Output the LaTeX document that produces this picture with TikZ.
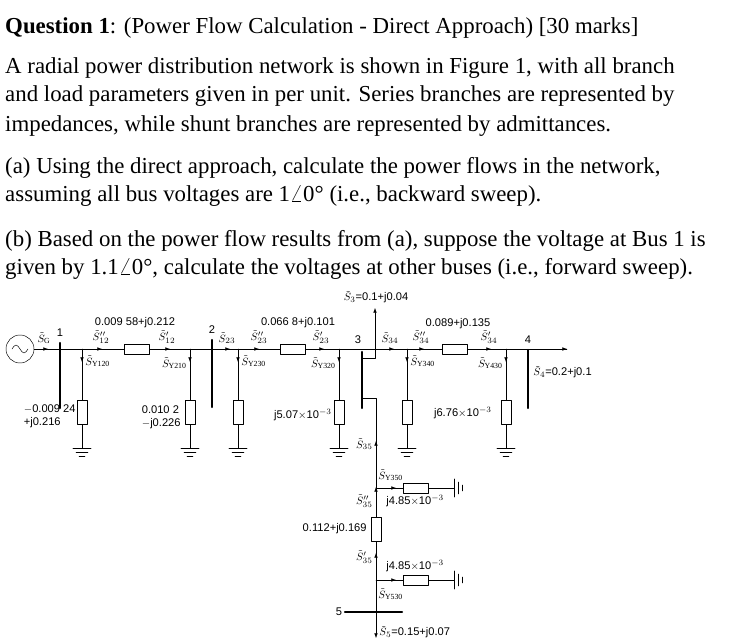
\documentclass[tikz,border=0pt]{standalone}
\usepackage{fontspec}
\setmainfont{Liberation Serif}
\newfontfamily\lblfont{Liberation Sans}
\usetikzlibrary{arrows.meta}
\tikzset{
  txt/.style={anchor=west, inner sep=0pt, font=\fontsize{19.5}{22}\selectfont},
  lbl/.style={inner sep=1pt, font=\lblfont\fontsize{9.5}{11}\selectfont},
  res/.style={draw, fill=white, minimum width=0.75cm, minimum height=0.3cm, inner sep=0pt},
  vres/.style={draw, fill=white, minimum width=0.3cm, minimum height=0.72cm, inner sep=0pt},
  bus/.style={line width=1.8pt},
  flow/.style={-{Latex[length=4pt,width=3pt]}},
  gnd/.pic={\draw (0,0) -- (0,8);
            \draw[thick] (-9,8) -- (9,8);
            \draw (-6,12) -- (6,12);
            \draw (-3,16) -- (3,16);}
}
\begin{document}
\begin{tikzpicture}[x=0.03cm, y=-0.03cm, line cap=round, line join=round]
  \useasboundingbox (0,0) rectangle (747,642);

  % Aufgabentext
  \node[txt] (q0) at (5,28)  {\textbf{Question 1}: (Power Flow Calculation - Direct Approach) [30 marks]};
  \node[txt] (q1) at (5,68)  {A radial power distribution network is shown in Figure 1, with all branch};
  \node[txt] (q2) at (5,96)  {and load parameters given in per unit. Series branches are represented by};
  \node[txt] (q3) at (5,126) {impedances, while shunt branches are represented by admittances.};
  \node[txt] (q4) at (5,168) {(a) Using the direct approach, calculate the power flows in the network,};
  \node[txt] (q5) at (5,196) {assuming all bus voltages are 1$\angle$0\textdegree\ (i.e., backward sweep).};
  \node[txt] (q6) at (5,241) {(b) Based on the power flow results from (a), suppose the voltage at Bus 1 is};
  \node[txt] (q7) at (5,269) {given by 1.1$\angle$0\textdegree, calculate the voltages at other buses (i.e., forward sweep).};

  % Quelle und Hauptleitung
  \node[draw, circle, minimum size=0.84cm, inner sep=0pt] (gen) at (20,349) {};
  \draw (gen.center) ++(-8,0) sin ++(4,-4) cos ++(4,4) sin ++(4,4) cos ++(4,-4);
  \coordinate (b4end) at (567,349);
  \draw (gen) -- (b4end);
  \draw[flow] (b4end) ++(-10,0) -- (b4end);

  % Sammelschienen
  \draw[bus] (60,343) -- (60,408);   \node[lbl] (n1) at (60,333) {1};
  \draw[bus] (212,340) -- (212,407); \node[lbl] (n2) at (212,330) {2};
  \draw[bus] (362,352) -- (362,408); \node[lbl] (n3) at (358,340) {3};
  \draw[bus] (528,350) -- (528,408); \node[lbl] (n4) at (528,340) {4};
  \draw[bus] (345,612) -- (402,612); \node[lbl] (n5) at (339,612) {5};

  % Laengsimpedanzen
  \node[res] (z12) at (137,349) {};
  \node[res] (z23) at (293,349) {};
  \node[res] (z34) at (455,349) {};
  \node[lbl] at (135,323) {0.009 58+j0.212};
  \node[lbl] at (298,323) {0.066 8+j0.101};
  \node[lbl] at (458,324) {0.089+j0.135};

  % Querzweige
  \foreach \x in {82,190,238,339,407,506} {
    \node[vres] (y\x) at (\x,412) {};
    \draw (\x,349) -- (y\x.north);
    \draw[flow] (\x,352) -- (\x,362);
    \draw (y\x.south) -- (\x,440) pic {gnd};
  }
  \node[lbl, anchor=west] at (84,361) {$\tilde S_{\mathrm{Y120}}$};
  \node[lbl, anchor=east] at (188,363) {$\tilde S_{\mathrm{Y210}}$};
  \node[lbl, anchor=west] at (240,361) {$\tilde S_{\mathrm{Y230}}$};
  \node[lbl, anchor=east] at (337,363) {$\tilde S_{\mathrm{Y320}}$};
  \node[lbl, anchor=west] at (409,361) {$\tilde S_{\mathrm{Y340}}$};
  \node[lbl, anchor=east] at (504,363) {$\tilde S_{\mathrm{Y430}}$};
  \node[lbl, align=left, anchor=east] at (77,416) {$-$0.009 24\\+j0.216};
  \node[lbl, align=left, anchor=east] at (182,417) {0.010 2\\$-$j0.226};
  \node[lbl, anchor=east] at (333,415) {j5.07$\times$10$^{-3}$};
  \node[lbl, anchor=east] at (493,413) {j6.76$\times$10$^{-3}$};

  % Leistungsfluesse auf der Hauptleitung
  \foreach \x in {44,98,166,226,255,320,390,420,487} \draw[flow] (\x,349) -- (\x+4,349);
  \node[lbl] at (44,338) {$\tilde S_{\mathrm{G}}$};
  \node[lbl] at (101,337) {$\tilde S''_{12}$};
  \node[lbl] at (167,337) {$\tilde S'_{12}$};
  \node[lbl] at (227,338) {$\tilde S_{23}$};
  \node[lbl] at (259,337) {$\tilde S''_{23}$};
  \node[lbl] at (321,337) {$\tilde S'_{23}$};
  \node[lbl] at (390,338) {$\tilde S_{34}$};
  \node[lbl] at (421,337) {$\tilde S''_{34}$};
  \node[lbl] at (489,337) {$\tilde S'_{34}$};
  \node[lbl, anchor=west] at (532,372) {$\tilde S_4$=0.2+j0.1};

  % Last an Bus 3
  \coordinate (s3top) at (375,308);
  \draw[flow] (362,358) -- (375,358) -- (s3top);
  \node[lbl] at (376,297) {$\tilde S_3$=0.1+j0.04};

  % Abzweig 3-5
  \coordinate (s5end) at (376,638);
  \draw[flow] (362,398) -- (376,398) -- (s5end);
  \draw[flow] (376,448) -- (376,441);
  \node[lbl, anchor=east] at (374,444) {$\tilde S_{35}$};
  \node[vres] (z35) at (376,529) {};
  \node[lbl, anchor=east] at (368,529) {0.112+j0.169};
  \draw[flow] (376,494) -- (376,487);
  \node[lbl, anchor=east] at (374,501) {$\tilde S''_{35}$};
  \draw[flow] (376,560) -- (376,553);
  \node[lbl, anchor=east] at (374,557) {$\tilde S'_{35}$};

  \node[res] (y350) at (416,488) {};
  \draw (376,488) -- (y350.west);
  \draw[flow] (380,488) -- (396,488);
  \draw (y350.east) -- (446,488) pic[rotate=90] {gnd};
  \node[lbl, anchor=west] at (377,475) {$\tilde S_{\mathrm{Y350}}$};
  \node[lbl, anchor=west] at (385,501) {j4.85$\times$10$^{-3}$};

  \node[res] (y530) at (416,580) {};
  \draw (376,580) -- (y530.west);
  \draw[flow] (380,580) -- (396,580);
  \draw (y530.east) -- (446,580) pic[rotate=90] {gnd};
  \node[lbl, anchor=west] at (377,594) {$\tilde S_{\mathrm{Y530}}$};
  \node[lbl, anchor=west] at (385,566) {j4.85$\times$10$^{-3}$};
  \node[lbl, anchor=west] at (378,632) {$\tilde S_5$=0.15+j0.07};
\end{tikzpicture}
\end{document}
